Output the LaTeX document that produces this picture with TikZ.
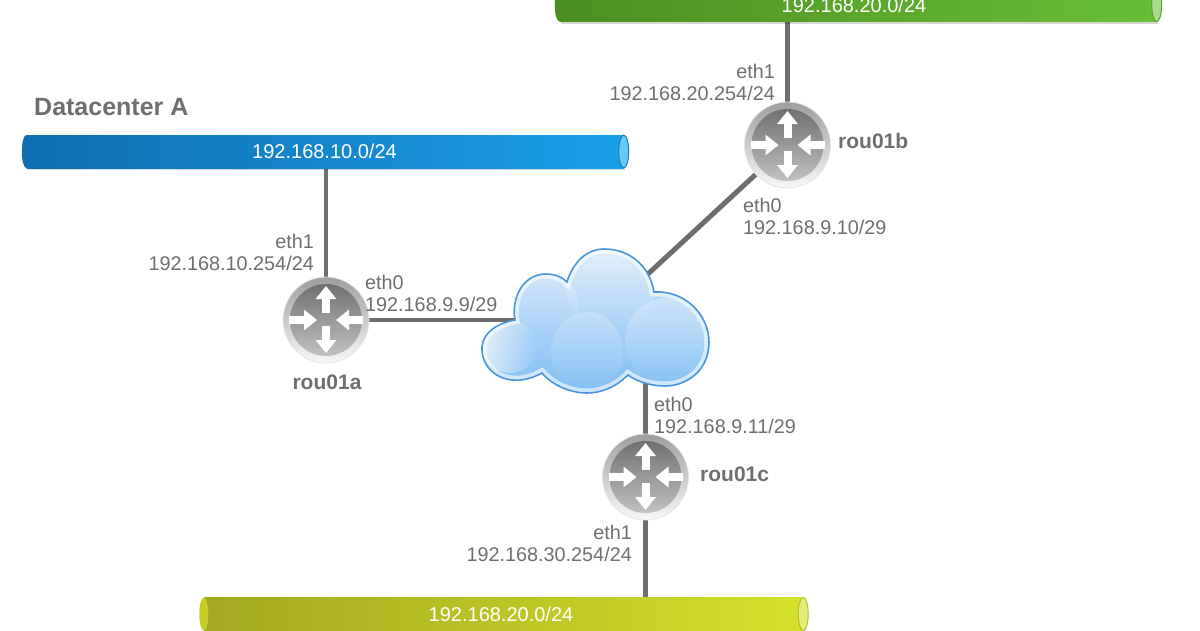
\documentclass[tikz,border=0pt]{standalone}
\usepackage{fontspec}
\setmainfont{Liberation Sans}
\usetikzlibrary{shapes.geometric, arrows.meta, calc, shadows, backgrounds, fadings}
\definecolor{txtgray}{HTML}{6D6E71}
\definecolor{wiregray}{HTML}{6E6E70}
\definecolor{blueL}{HTML}{0F6FB0}
\definecolor{blueR}{HTML}{1A9EEA}
\definecolor{blueE}{HTML}{6CC6F5}
\definecolor{greenL}{HTML}{4B8F22}
\definecolor{greenR}{HTML}{68BF36}
\definecolor{greenE}{HTML}{A5DB8A}
\definecolor{yellowL}{HTML}{A3A81F}
\definecolor{yellowR}{HTML}{D5E02C}
\definecolor{yellowE}{HTML}{E3EC7C}
\definecolor{cloudedge}{HTML}{4A96DC}
\definecolor{cloudtop}{HTML}{D3E7FA}
\definecolor{cloudlow}{HTML}{7FBDF2}
\tikzset{
    netbar/.style 2 args={rectangle, left color=#1, right color=#2, minimum height=33pt, inner sep=0pt,
        text=white, font=\fontsize{20}{22}\selectfont,
        drop shadow={shadow xshift=1.5pt, shadow yshift=-2pt, opacity=0.16, fill=black}},
    netend/.style 2 args={ellipse, fill=#1, draw=#2, line width=1pt, minimum width=10pt, minimum height=33pt, inner sep=0pt},
    netcap/.style={ellipse, fill=#1, minimum width=9pt, minimum height=33pt, inner sep=0pt},
    wire/.style={draw=wiregray, line width=5pt},
    iface/.style={text=txtgray, font=\fontsize{19.8}{22}\selectfont, inner sep=0pt},
    roulbl/.style={text=txtgray, font=\fontsize{21}{24}\selectfont\bfseries, inner sep=0pt},
    rouball/.style={circle, minimum size=86pt, inner sep=0pt, top color=black!38, bottom color=black!3, draw=black!10, line width=.8pt},
    rouface/.style={circle, minimum size=72pt, inner sep=0pt, top color=black!56, bottom color=black!24},
    rouarrow/.style={white, line width=8pt, -{Triangle[length=13pt, width=20pt]}},
    cloudpath/.style={insert path={
        (515,320) .. controls (511,300) and (522,274) .. (546,274)
        .. controls (556,274) and (563,278) .. (567,282)
        .. controls (573,262) and (587,249) .. (604,249)
        .. controls (632,249) and (650,268) .. (654,292)
        .. controls (685,290) and (709,315) .. (709,342)
        .. controls (709,372) and (685,386) .. (665,386)
        .. controls (650,386) and (636,381) .. (628,375)
        .. controls (615,388) and (600,393) .. (587,393)
        .. controls (570,393) and (552,385) .. (542,373)
        .. controls (533,378) and (522,381) .. (513,380)
        .. controls (495,379) and (481,365) .. (482,347)
        .. controls (483,332) and (498,323) .. (515,320) -- cycle}}
}
\begin{document}
\begin{tikzpicture}[x=1pt, y=-1pt]
    \useasboundingbox (0,0) rectangle (1200,630);
    % Redes
    \node[netbar={blueL}{blueR}, minimum width=597pt] (netA) at (325,151.5) {\hspace{-1pt}192.168.10.0/24};
    \node[netcap=blueL] (netAl) at (netA.west) {};
    \node[netend={blueE}{blueL!70!blueR}] (netAr) at (netA.east) {};
    \node[netbar={greenL}{greenR}, minimum width=597pt] (netB) at (858,5) {\hspace{-8pt}192.168.20.0/24};
    \node[netcap=greenL] (netBl) at (netB.west) {};
    \node[netend={greenE}{greenR!85!black}] (netBr) at (netB.east) {};
    \node[netbar={yellowL}{yellowR}, minimum width=599pt] (netC) at (503.5,614) {\hspace{-5pt}192.168.20.0/24};
    \node[netcap=yellowR!70!yellowL] (netCl) at (netC.west) {};
    \node[netend={yellowE}{yellowR!85!black}] (netCr) at (netC.east) {};
    % Roteadores
    \node[rouball] (rou01a) at (326,320) {};
    \node[rouball] (rou01b) at (787.5,145) {};
    \node[rouball] (rou01c) at (645.5,477) {};
    \foreach \rou in {rou01a,rou01b,rou01c} {
        \node[rouface] (\rou-in) at (\rou) {};
        \draw[rouarrow] ($(\rou)+(0,-7)$) -- ($(\rou)+(0,-34)$);
        \draw[rouarrow] ($(\rou)+(0,6)$) -- ($(\rou)+(0,33)$);
        \draw[rouarrow] ($(\rou)+(-37,0)$) -- ($(\rou)+(-9,0)$);
        \draw[rouarrow] ($(\rou)+(37,0)$) -- ($(\rou)+(10,0)$);
    }
    % Nuvem
    \node[minimum width=228pt, minimum height=146pt, inner sep=0pt] (cloud) at (596,322) {};
    \begin{scope}
        \clip[cloudpath];
        \fill[top color=cloudtop, bottom color=cloudlow] (478,245) rectangle (712,398);
        \fill[white, fill opacity=.35, path fading=south] (610,290) ellipse (44 and 42);
        \fill[white, fill opacity=.25, path fading=south] (545,305) ellipse (34 and 32);
        \fill[white, fill opacity=.7, path fading=east] (510,347) ellipse (28 and 26);
        \fill[white, fill opacity=.3, path fading=south] (667,340) ellipse (42 and 42);
        \fill[white, fill opacity=.22, path fading=south] (587,352) ellipse (36 and 40);
        \draw[white, line width=9pt, opacity=.6, cloudpath];
    \end{scope}
    \draw[cloudedge, line width=1.6pt, cloudpath];
    % Ligacoes
    \begin{pgfonlayer}{background}
        \draw[wire, line width=4pt] (rou01a) -- (rou01a |- netA);
        \draw[wire, line width=4pt] (rou01a) -- (rou01a -| cloud);
        \draw[wire] (rou01b) -- (rou01b |- netB);
        \draw[wire] (rou01b) -- (cloud.center);
        \draw[wire] (rou01c) -- (rou01c |- cloud);
        \draw[wire] (rou01c) -- (rou01c |- netC);
    \end{pgfonlayer}
    % Textos
    \node[roulbl, font=\fontsize{25}{27}\selectfont\bfseries, anchor=west] (titleA) at (34,107) {Datacenter A};
    \node[iface, align=right, anchor=east] (ifA1) at (314,252) {eth1\\192.168.10.254/24};
    \node[iface, align=left, anchor=west] (ifA0) at (365,293) {eth0\\192.168.9.9/29};
    \node[iface, align=right, anchor=east] (ifB1) at (775,82.5) {eth1\\192.168.20.254/24};
    \node[iface, align=left, anchor=west] (ifB0) at (743,216) {eth0\\192.168.9.10/29};
    \node[iface, align=left, anchor=west] (ifC0) at (654,415.5) {eth0\\192.168.9.11/29};
    \node[iface, align=right, anchor=east] (ifC1) at (632,543) {eth1\\192.168.30.254/24};
    \node[roulbl] (lblA) at (327,382) {rou01a};
    \node[roulbl, anchor=west] (lblB) at (838,141) {rou01b};
    \node[roulbl, anchor=west] (lblC) at (700,474) {rou01c};
\end{tikzpicture}
\end{document}
